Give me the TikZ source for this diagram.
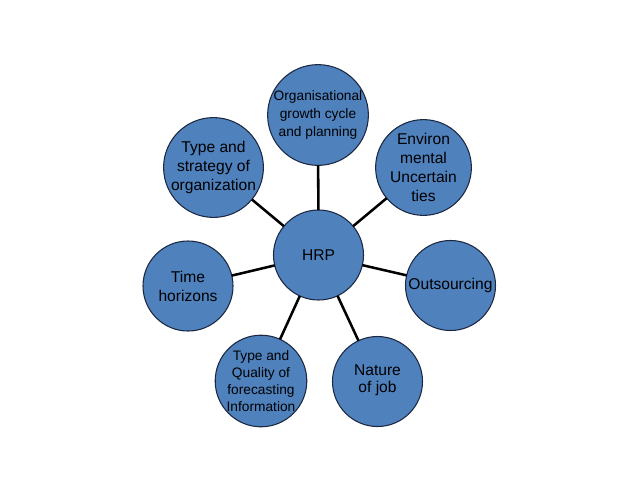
\documentclass[tikz,border=0pt]{standalone}
\usepackage{fontspec}
\setmainfont{Liberation Sans}
\definecolor{factorblue}{RGB}{79,129,189}
\definecolor{factoredge}{RGB}{28,40,66}
\begin{document}
\begin{tikzpicture}[x=0.75pt,y=-0.75pt,inner sep=0pt,outer sep=0pt,
factor/.style={draw=factoredge,fill=factorblue,circle,line width=0.8pt,minimum size=67.5pt,align=center,
  font=\fontsize{11.7}{14.25}\selectfont},
smallfactor/.style={factor,font=\fontsize{10.3}{13}\selectfont},
spoke/.style={line width=1.9pt}]
\useasboundingbox (0,0) rectangle (638,478);

\draw (318.5,255) node[factor] (hrp) {HRP};
\draw (318,115) node[smallfactor,font=\fontsize{10.3}{13.5}\selectfont] (growth) {Organisational\\growth cycle\\and planning};
\draw (213.5,167.5) node[factor] (strategy) {Type and\\strategy of\\organization};
\draw (423.5,167.5) node[factor] (environ) {Environ\\mental\\Uncertain\\ties};
\draw (188,286) node[factor] (time) {Time\\horizons};
\draw (450.5,285.5) node[factor] (outsourcing) {Outsourcing};
\draw (261,381) node[smallfactor,font=\fontsize{10.3}{12.75}\selectfont] (forecast) {Type and\\Quality of\\forecasting\\Information};
\draw (377.5,381.5) node[factor] (job) {\raisebox{4pt}{\shortstack{Nature\\[1pt]of job}}};

\draw[spoke] (hrp) -- (growth);
\draw[spoke] (hrp) -- (strategy);
\draw[spoke] (hrp) -- (environ);
\draw[spoke] (hrp) -- (time);
\draw[spoke] (hrp) -- (outsourcing);
\draw[spoke] (hrp) -- (forecast);
\draw[spoke] (hrp) -- (job);
\end{tikzpicture}
\end{document}
